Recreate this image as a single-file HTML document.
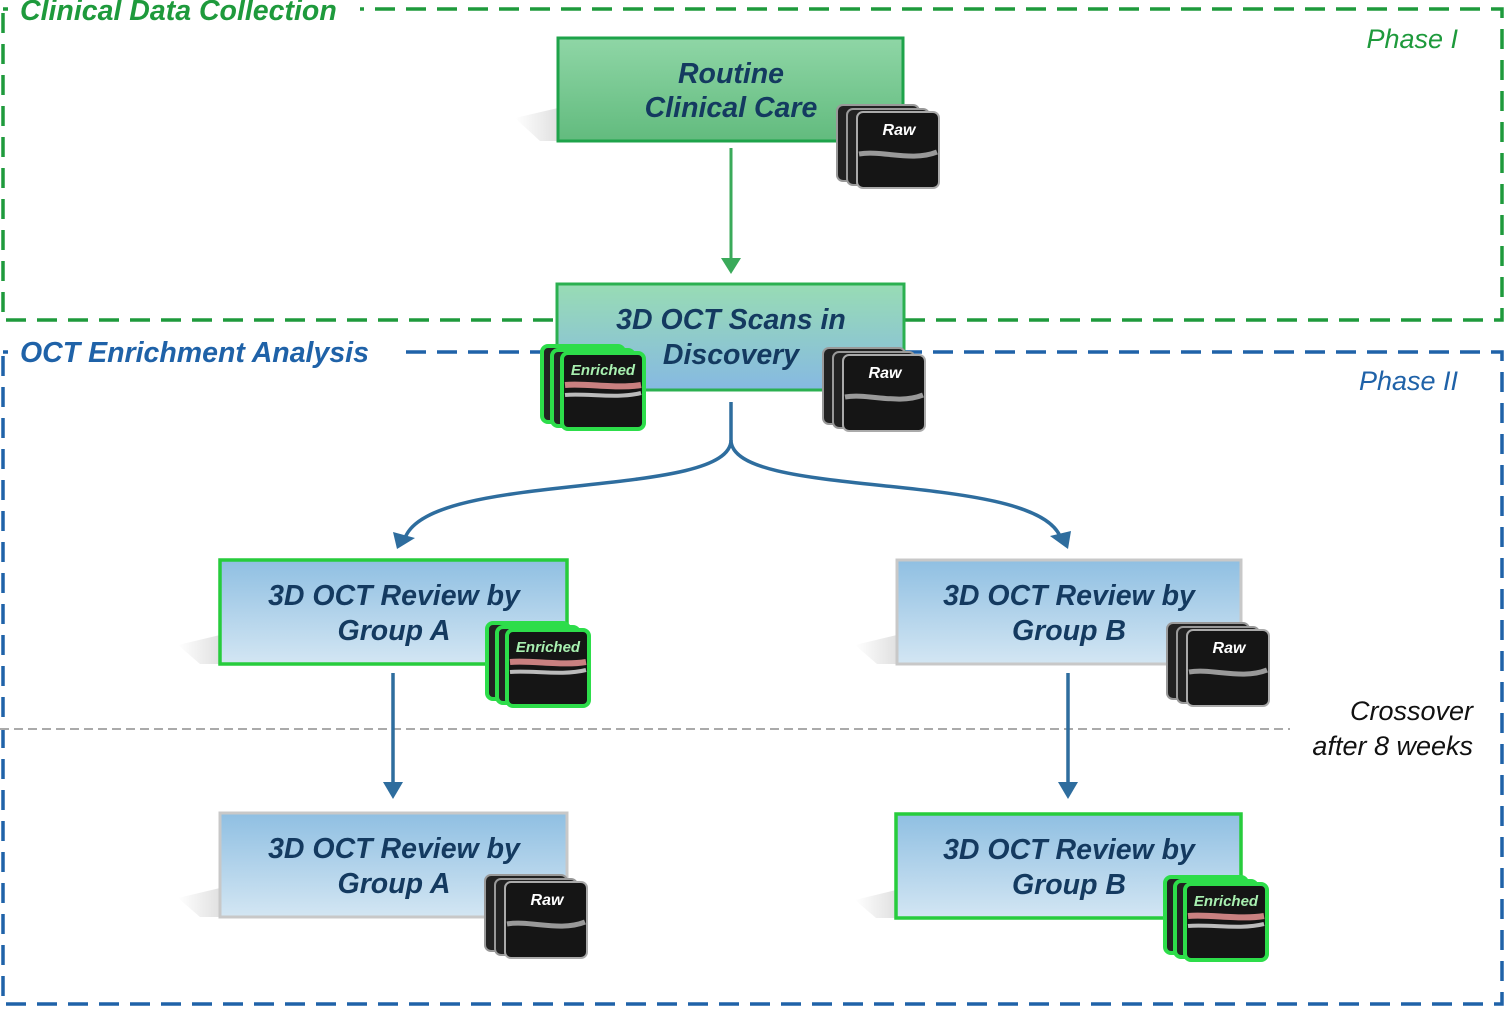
<!DOCTYPE html>
<html><head><meta charset="utf-8"><style>
html,body{margin:0;padding:0;background:#fff;}
svg{display:block;font-family:"Liberation Sans",sans-serif;}
</style></head><body>
<svg width="1508" height="1012" viewBox="0 0 1508 1012" xmlns="http://www.w3.org/2000/svg">
<defs>
<linearGradient id="gG" x1="0" y1="0" x2="0" y2="1"><stop offset="0" stop-color="#8fd6a6"/><stop offset="1" stop-color="#62bb7e"/></linearGradient>
<linearGradient id="gD" x1="0" y1="0" x2="0" y2="1"><stop offset="0" stop-color="#98dcb4"/><stop offset="1" stop-color="#86b9e2"/></linearGradient>
<linearGradient id="gB" x1="0" y1="0" x2="0" y2="1"><stop offset="0" stop-color="#8fbfe2"/><stop offset="1" stop-color="#d3e6f3"/></linearGradient>
<linearGradient id="sh" x1="0" y1="0" x2="1" y2="0"><stop offset="0" stop-color="#fff"/><stop offset="1" stop-color="#ccc"/></linearGradient>
</defs>

<!-- frames -->
<rect x="3" y="9" width="1499" height="311" fill="none" stroke="#1e9a3c" stroke-width="3.5" stroke-dasharray="20,11"/>
<rect x="3" y="352" width="1499" height="652" fill="none" stroke="#1f62a8" stroke-width="3.5" stroke-dasharray="20,11"/>
<line x1="0" y1="729" x2="1290" y2="729" stroke="#aaa" stroke-width="2" stroke-dasharray="9,5"/>
<rect x="8" y="0" width="352" height="24" fill="#fff"/>
<text x="20" y="20" font-size="28.5" font-style="italic" font-weight="bold" fill="#1e9a3c">Clinical Data Collection</text>
<text x="1458" y="48" font-size="27" font-style="italic" fill="#1e9a3c" text-anchor="end">Phase I</text>
<rect x="8" y="336" width="392" height="34" fill="#fff"/>
<text x="20" y="362" font-size="28.5" font-style="italic" font-weight="bold" fill="#1f62a8">OCT Enrichment Analysis</text>
<text x="1458" y="390" font-size="27" font-style="italic" fill="#1f62a8" text-anchor="end">Phase II</text>
<text x="1473" y="720" font-size="27" font-style="italic" fill="#111" text-anchor="end">Crossover</text>
<text x="1473" y="755" font-size="27" font-style="italic" fill="#111" text-anchor="end">after 8 weeks</text>

<!-- connectors -->
<line x1="731" y1="148" x2="731" y2="262" stroke="#3aaa5a" stroke-width="3"/>
<polygon points="721,258 741,258 731,274" fill="#3aaa5a"/>
<path d="M731,402 L731,440 C731,500 430,470 405,538" fill="none" stroke="#2e6d9e" stroke-width="3.5"/>
<polygon points="393,532 415,538 397,549" fill="#2e6d9e"/>
<path d="M731,440 C731,500 1030,470 1060,536" fill="none" stroke="#2e6d9e" stroke-width="3.5"/>
<polygon points="1050,536 1071,531 1068,549" fill="#2e6d9e"/>
<line x1="393" y1="673" x2="393" y2="786" stroke="#2e6d9e" stroke-width="3.5"/>
<polygon points="383,782 403,782 393,799" fill="#2e6d9e"/>
<line x1="1068" y1="673" x2="1068" y2="786" stroke="#2e6d9e" stroke-width="3.5"/>
<polygon points="1058,782 1078,782 1068,799" fill="#2e6d9e"/>

<!-- boxes with shadows -->
<g font-size="28.5" font-style="italic" font-weight="bold" fill="#143a60" text-anchor="middle">
<polygon points="515,118 558,108 558,141 540,141" fill="url(#sh)" opacity="0.6"/>
<rect x="558" y="38" width="345" height="103" fill="url(#gG)" stroke="#1ea34a" stroke-width="3"/>
<text x="731" y="83">Routine</text><text x="731" y="117">Clinical Care</text>

<rect x="557" y="284" width="347" height="106" fill="url(#gD)" stroke="#2bb050" stroke-width="3"/>
<text x="731" y="329">3D OCT Scans in</text><text x="731" y="364">Discovery</text>

<polygon points="178,645 220,635 220,664 200,664" fill="url(#sh)" opacity="0.6"/>
<rect x="220" y="560" width="347" height="104" fill="url(#gB)" stroke="#27cc3c" stroke-width="3.5"/>
<text x="394" y="605">3D OCT Review by</text><text x="394" y="640">Group A</text>

<polygon points="855,645 897,635 897,664 877,664" fill="url(#sh)" opacity="0.6"/>
<rect x="897" y="560" width="344" height="104" fill="url(#gB)" stroke="#c8c8c8" stroke-width="3"/>
<text x="1069" y="605">3D OCT Review by</text><text x="1069" y="640">Group B</text>

<polygon points="178,898 220,888 220,917 200,917" fill="url(#sh)" opacity="0.6"/>
<rect x="220" y="813" width="347" height="104" fill="url(#gB)" stroke="#c8c8c8" stroke-width="3"/>
<text x="394" y="858">3D OCT Review by</text><text x="394" y="893">Group A</text>

<polygon points="855,900 896,890 896,918 876,918" fill="url(#sh)" opacity="0.6"/>
<rect x="896" y="814" width="345" height="104" fill="url(#gB)" stroke="#27cc3c" stroke-width="3.5"/>
<text x="1069" y="859">3D OCT Review by</text><text x="1069" y="894">Group B</text>
</g>

<!-- Raw stacks -->
<g font-size="16" font-style="italic" font-weight="bold" fill="#fff" text-anchor="middle">
<g transform="translate(857,112)">
 <rect x="-20" y="-7" width="82" height="76" rx="6" fill="#222" stroke="#999" stroke-width="2"/>
 <rect x="-10" y="-3" width="82" height="76" rx="6" fill="#222" stroke="#999" stroke-width="2"/>
 <rect x="0" y="0" width="82" height="76" rx="6" fill="#151515" stroke="#aaa" stroke-width="2"/>
 <path d="M2,42 C25,38 55,50 80,40" stroke="#999" stroke-width="5" fill="none"/>
 <text x="42" y="23">Raw</text></g>
<g transform="translate(843,355)">
 <rect x="-20" y="-7" width="82" height="76" rx="6" fill="#222" stroke="#999" stroke-width="2"/>
 <rect x="-10" y="-3" width="82" height="76" rx="6" fill="#222" stroke="#999" stroke-width="2"/>
 <rect x="0" y="0" width="82" height="76" rx="6" fill="#151515" stroke="#aaa" stroke-width="2"/>
 <path d="M2,42 C25,38 55,50 80,40" stroke="#999" stroke-width="5" fill="none"/>
 <text x="42" y="23">Raw</text></g>
<g transform="translate(1187,630)">
 <rect x="-20" y="-7" width="82" height="76" rx="6" fill="#222" stroke="#999" stroke-width="2"/>
 <rect x="-10" y="-3" width="82" height="76" rx="6" fill="#222" stroke="#999" stroke-width="2"/>
 <rect x="0" y="0" width="82" height="76" rx="6" fill="#151515" stroke="#aaa" stroke-width="2"/>
 <path d="M2,42 C25,38 55,50 80,40" stroke="#999" stroke-width="5" fill="none"/>
 <text x="42" y="23">Raw</text></g>
<g transform="translate(505,882)">
 <rect x="-20" y="-7" width="82" height="76" rx="6" fill="#222" stroke="#999" stroke-width="2"/>
 <rect x="-10" y="-3" width="82" height="76" rx="6" fill="#222" stroke="#999" stroke-width="2"/>
 <rect x="0" y="0" width="82" height="76" rx="6" fill="#151515" stroke="#aaa" stroke-width="2"/>
 <path d="M2,42 C25,38 55,50 80,40" stroke="#999" stroke-width="5" fill="none"/>
 <text x="42" y="23">Raw</text></g>
</g>

<!-- Enriched stacks -->
<g font-size="15" font-style="italic" font-weight="bold" fill="#a8f0b0" text-anchor="middle">
<g transform="translate(562,353)">
 <rect x="-20" y="-7" width="82" height="76" rx="6" fill="#222" stroke="#2ddd4a" stroke-width="4"/>
 <rect x="-10" y="-3" width="82" height="76" rx="6" fill="#222" stroke="#2ddd4a" stroke-width="4"/>
 <rect x="0" y="0" width="82" height="76" rx="6" fill="#151515" stroke="#2ddd4a" stroke-width="4"/>
 <path d="M3,32 C25,30 55,36 79,32" stroke="#c98080" stroke-width="6" fill="none"/>
 <path d="M3,42 C25,40 55,46 79,40" stroke="#bbb" stroke-width="4" fill="none"/>
 <text x="41" y="22">Enriched</text></g>
<g transform="translate(507,630)">
 <rect x="-20" y="-7" width="82" height="76" rx="6" fill="#222" stroke="#2ddd4a" stroke-width="4"/>
 <rect x="-10" y="-3" width="82" height="76" rx="6" fill="#222" stroke="#2ddd4a" stroke-width="4"/>
 <rect x="0" y="0" width="82" height="76" rx="6" fill="#151515" stroke="#2ddd4a" stroke-width="4"/>
 <path d="M3,32 C25,30 55,36 79,32" stroke="#c98080" stroke-width="6" fill="none"/>
 <path d="M3,42 C25,40 55,46 79,40" stroke="#bbb" stroke-width="4" fill="none"/>
 <text x="41" y="22">Enriched</text></g>
<g transform="translate(1185,884)">
 <rect x="-20" y="-7" width="82" height="76" rx="6" fill="#222" stroke="#2ddd4a" stroke-width="4"/>
 <rect x="-10" y="-3" width="82" height="76" rx="6" fill="#222" stroke="#2ddd4a" stroke-width="4"/>
 <rect x="0" y="0" width="82" height="76" rx="6" fill="#151515" stroke="#2ddd4a" stroke-width="4"/>
 <path d="M3,32 C25,30 55,36 79,32" stroke="#c98080" stroke-width="6" fill="none"/>
 <path d="M3,42 C25,40 55,46 79,40" stroke="#bbb" stroke-width="4" fill="none"/>
 <text x="41" y="22">Enriched</text></g>
</g>
</svg>
</body></html>
